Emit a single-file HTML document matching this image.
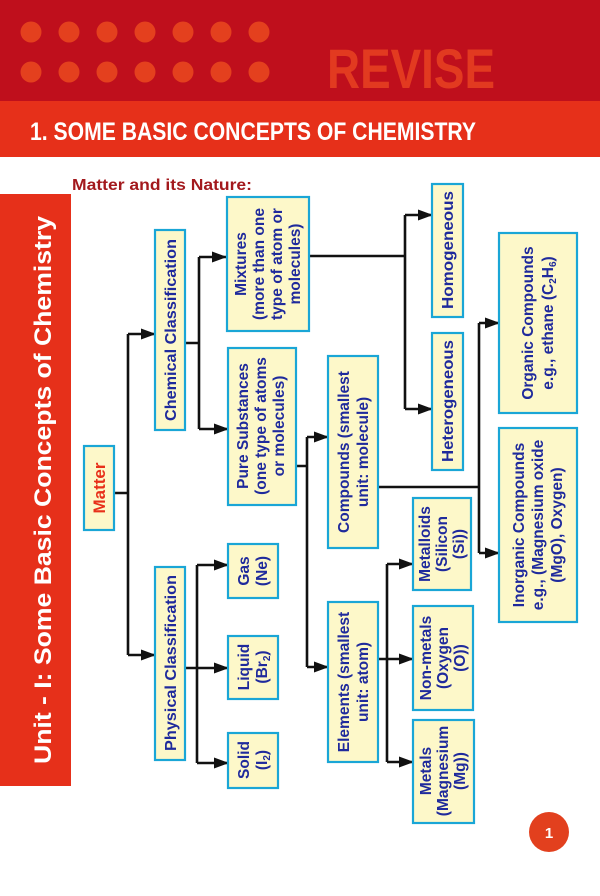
<!DOCTYPE html>
<html><head><meta charset="utf-8"><style>
html,body{margin:0;padding:0;background:#fff}
svg{display:block}
text{font-family:"Liberation Sans",sans-serif;font-weight:bold}
.b{fill:#fdf8c9;stroke:#1aa6d6;stroke-width:2.2}
.t{fill:#1f2a9c;font-size:15.5px}
.l{stroke:#111;stroke-width:2.6;fill:none}
</style></head><body>
<svg width="600" height="896" viewBox="0 0 600 896" xmlns="http://www.w3.org/2000/svg">
<defs>
<marker id="A" markerWidth="15" markerHeight="11" refX="14" refY="5.5" orient="auto" markerUnits="userSpaceOnUse"><path d="M0,0L15,5.5L0,11z" fill="#111"/></marker></defs>
<rect x="0" y="0" width="600" height="101" fill="#bf0f1c"/>
<rect x="0" y="101" width="600" height="56" fill="#e6301a"/>
<g fill="#e4401e">
<circle cx="31" cy="32" r="10.5"/><circle cx="69" cy="32" r="10.5"/><circle cx="107" cy="32" r="10.5"/><circle cx="145" cy="32" r="10.5"/><circle cx="183" cy="32" r="10.5"/><circle cx="221" cy="32" r="10.5"/><circle cx="259" cy="32" r="10.5"/>
<circle cx="31" cy="72" r="10.5"/><circle cx="69" cy="72" r="10.5"/><circle cx="107" cy="72" r="10.5"/><circle cx="145" cy="72" r="10.5"/><circle cx="183" cy="72" r="10.5"/><circle cx="221" cy="72" r="10.5"/><circle cx="259" cy="72" r="10.5"/>
</g>
<text x="327" y="88" fill="#e23a20" font-size="56" textLength="168" lengthAdjust="spacingAndGlyphs">REVISE</text>
<text x="30" y="140" fill="#fff" font-size="25" textLength="446" lengthAdjust="spacingAndGlyphs">1. SOME BASIC CONCEPTS OF CHEMISTRY</text>
<text x="72" y="190" fill="#a3191d" font-size="16" textLength="180" lengthAdjust="spacingAndGlyphs">Matter and its Nature:</text>
<rect x="0" y="194" width="71" height="592" fill="#e6301a"/>
<text transform="rotate(-90 42 490)" x="42" y="499" text-anchor="middle" fill="#fff" font-size="24" textLength="548" lengthAdjust="spacingAndGlyphs">Unit - I: Some Basic Concepts of Chemistry</text>

<path class="l" d="M114,493H128M128,334V655"/>
<path class="l" d="M128,334H155" marker-end="url(#A)"/><path class="l" d="M128,655H155" marker-end="url(#A)"/>
<path class="l" d="M185,343H199M199,257V429"/>
<path class="l" d="M199,257H226" marker-end="url(#A)"/><path class="l" d="M199,429H228" marker-end="url(#A)"/>
<path class="l" d="M309,256H405M405,215V409"/>
<path class="l" d="M405,215H432" marker-end="url(#A)"/><path class="l" d="M405,409H432" marker-end="url(#A)"/>
<path class="l" d="M296,466H307M307,437V667"/>
<path class="l" d="M307,437H328" marker-end="url(#A)"/><path class="l" d="M307,667H328" marker-end="url(#A)"/>
<path class="l" d="M378,487H479M479,323V553"/>
<path class="l" d="M479,323H499" marker-end="url(#A)"/><path class="l" d="M479,553H499" marker-end="url(#A)"/>
<path class="l" d="M378,659H387M387,564V762"/>
<path class="l" d="M387,564H413" marker-end="url(#A)"/><path class="l" d="M387,659H413" marker-end="url(#A)"/><path class="l" d="M387,762H413" marker-end="url(#A)"/>
<path class="l" d="M185,668H197M197,565V763"/>
<path class="l" d="M197,565H228" marker-end="url(#A)"/><path class="l" d="M197,668H228" marker-end="url(#A)"/><path class="l" d="M197,763H228" marker-end="url(#A)"/>

<rect class="b" x="84" y="446" width="30" height="84"/>
<text transform="rotate(-90 99 488)" x="99" y="494" text-anchor="middle" fill="#e8301a" font-size="17">Matter</text>

<rect class="b" x="155" y="230" width="30" height="200"/>
<text class="t" transform="rotate(-90 170 330)" x="170" y="336" text-anchor="middle" font-size="17" textLength="182" lengthAdjust="spacingAndGlyphs">Chemical Classification</text>
<rect class="b" x="155" y="567" width="30" height="193"/>
<text class="t" transform="rotate(-90 170 663)" x="170" y="669" text-anchor="middle" font-size="17" textLength="176" lengthAdjust="spacingAndGlyphs">Physical Classification</text>

<rect class="b" x="227" y="197" width="82" height="134"/>
<text class="t" transform="rotate(-90 268 264)" text-anchor="middle"><tspan x="268" y="242">Mixtures</tspan><tspan x="268" y="260">(more than one</tspan><tspan x="268" y="278">type of atom or</tspan><tspan x="268" y="296">molecules)</tspan></text>

<rect class="b" x="228" y="348" width="68" height="157"/>
<text class="t" transform="rotate(-90 262 426)" text-anchor="middle"><tspan x="262" y="412">Pure Substances</tspan><tspan x="262" y="430">(one type of atoms</tspan><tspan x="262" y="448">or molecules)</tspan></text>

<rect class="b" x="228" y="544" width="50" height="54"/>
<text class="t" transform="rotate(-90 253 571)" text-anchor="middle"><tspan x="253" y="567">Gas</tspan><tspan x="253" y="585">(Ne)</tspan></text>
<rect class="b" x="228" y="636" width="50" height="63"/>
<text class="t" transform="rotate(-90 253 667)" text-anchor="middle"><tspan x="253" y="663">Liquid</tspan><tspan x="253" y="681">(Br<tspan font-size="10" dy="3">2</tspan><tspan dy="-3">)</tspan></tspan></text>
<rect class="b" x="228" y="733" width="50" height="55"/>
<text class="t" transform="rotate(-90 253 760)" text-anchor="middle"><tspan x="253" y="756">Solid</tspan><tspan x="253" y="774">(I<tspan font-size="10" dy="3">2</tspan><tspan dy="-3">)</tspan></tspan></text>

<rect class="b" x="328" y="356" width="50" height="192"/>
<text class="t" transform="rotate(-90 353 452)" text-anchor="middle"><tspan x="353" y="448">Compounds (smallest</tspan><tspan x="353" y="467">unit: molecule)</tspan></text>
<rect class="b" x="328" y="602" width="50" height="160"/>
<text class="t" transform="rotate(-90 353 682)" text-anchor="middle"><tspan x="353" y="678">Elements (smallest</tspan><tspan x="353" y="697">unit: atom)</tspan></text>

<rect class="b" x="413" y="498" width="58" height="92"/>
<text class="t" font-size="14.5" transform="rotate(-90 442 544)" text-anchor="middle"><tspan x="442" y="532">Metalloids</tspan><tspan x="442" y="549">(Silicon</tspan><tspan x="442" y="566">(Si))</tspan></text>
<rect class="b" x="413" y="606" width="60" height="104"/>
<text class="t" font-size="14.5" transform="rotate(-90 443 658)" text-anchor="middle"><tspan x="443" y="646">Non-metals</tspan><tspan x="443" y="663">(Oxygen</tspan><tspan x="443" y="680">(O))</tspan></text>
<rect class="b" x="413" y="720" width="61" height="103"/>
<text class="t" font-size="14.5" transform="rotate(-90 443 771)" text-anchor="middle"><tspan x="443" y="759">Metals</tspan><tspan x="443" y="776">(Magnesium</tspan><tspan x="443" y="793">(Mg))</tspan></text>

<rect class="b" x="432" y="184" width="31" height="133"/>
<text class="t" transform="rotate(-90 447 250)" x="447" y="256" text-anchor="middle" font-size="16" textLength="118" lengthAdjust="spacingAndGlyphs">Homogeneous</text>
<rect class="b" x="432" y="333" width="31" height="137"/>
<text class="t" transform="rotate(-90 447 401)" x="447" y="407" text-anchor="middle" font-size="16" textLength="122" lengthAdjust="spacingAndGlyphs">Heterogeneous</text>

<rect class="b" x="499" y="233" width="78" height="180"/>
<text class="t" transform="rotate(-90 538 323)" text-anchor="middle"><tspan x="538" y="318">Organic Compounds</tspan><tspan x="538" y="338">e.g., ethane (C<tspan font-size="10" dy="3">2</tspan><tspan dy="-3">H</tspan><tspan font-size="10" dy="3">6</tspan><tspan dy="-3">)</tspan></tspan></text>
<rect class="b" x="499" y="428" width="78" height="194"/>
<text class="t" transform="rotate(-90 538 525)" text-anchor="middle"><tspan x="538" y="511">Inorganic Compounds</tspan><tspan x="538" y="530">e.g., (Magnesium oxide</tspan><tspan x="538" y="549">(MgO), Oxygen)</tspan></text>

<circle cx="549" cy="832" r="20" fill="#e2401e"/>
<text x="549" y="838" text-anchor="middle" fill="#fff" font-size="15">1</text>
</svg>
</body></html>
